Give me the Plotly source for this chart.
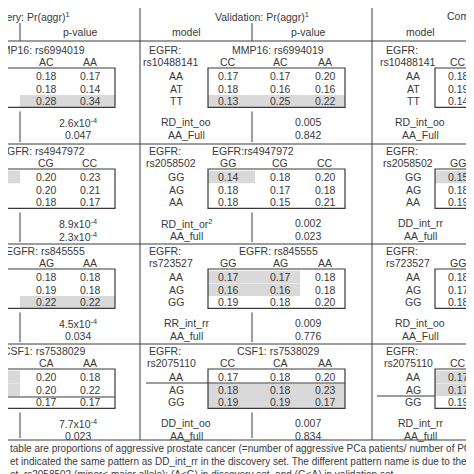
import plotly.graph_objects as go

# ---------------- data ----------------
disc_genes = ["MMP16: rs6994019", "EGFR: rs4947972", "EGFR: rs845555", "CSF1: rs7538029"]
disc_cols = [["AC", "AA"], ["CG", "CC"], ["AG", "AA"], ["CA", "AA"]]
disc_vals = [[["0.18", "0.17"], ["0.18", "0.14"], ["0.28", "0.34"]],
             [["0.20", "0.23"], ["0.20", "0.21"], ["0.18", "0.17"]],
             [["0.18", "0.18"], ["0.19", "0.18"], ["0.22", "0.22"]],
             [["0.20", "0.18"], ["0.20", "0.22"], ["0.17", "0.17"]]]
disc_p = [["2.6x10<sup>-4</sup>", "0.047"], ["8.9x10<sup>-4</sup>", "2.3x10<sup>-4</sup>"],
          ["4.5x10<sup>-4</sup>", "0.034"], ["7.7x10<sup>-4</sup>", "0.023"]]
disc_model = [["RD_int_oo", "AA_Full"], ["RD_int_or<sup>2</sup>", "AA_full"],
              ["RR_int_rr", "AA_full"], ["DD_int_oo", "AA_full"]]
row_snps = ["rs10488141", "rs2058502", "rs723527", "rs2075110"]
row_geno = [["AA", "AT", "TT"], ["GG", "AG", "AA"], ["AA", "AG", "GG"], ["AA", "AG", "GG"]]
val_genes = ["MMP16: rs6994019", "EGFR:rs4947972", "EGFR: rs845555", "CSF1: rs7538029"]
val_cols = [["CC", "AC", "AA"], ["GG", "CG", "CC"], ["GG", "AG", "AA"], ["CC", "CA", "AA"]]
val_vals = [[["0.17", "0.17", "0.20"], ["0.18", "0.16", "0.16"], ["0.13", "0.25", "0.22"]],
            [["0.14", "0.18", "0.20"], ["0.18", "0.17", "0.18"], ["0.18", "0.15", "0.21"]],
            [["0.17", "0.17", "0.18"], ["0.16", "0.16", "0.18"], ["0.19", "0.18", "0.20"]],
            [["0.17", "0.18", "0.20"], ["0.18", "0.18", "0.23"], ["0.19", "0.19", "0.17"]]]
val_p = [["0.005", "0.842"], ["0.002", "0.023"], ["0.009", "0.776"], ["0.007", "0.834"]]
val_model = [["RD_int_oo", "AA_Full"], ["DD_int_rr", "AA_full"],
             ["RD_int_oo", "AA_Full"], ["RD_int_rr", "AA_full"]]
comb_head = ["MMP16", "EGFR:rs", "EGFR", "CSF1"]
comb_vals = [["0.18", "0.19", "0.14"], ["0.15", "0.18", "0.19"],
             ["0.18", "0.17", "0.18"], ["0.17", "0.17", "0.19"]]
footnotes = ["table are proportions of aggressive prostate cancer (=number of aggressive PCa patients/ number of PCa pa",
             "et indicated the same pattern as DD_int_rr in the discovery set. The different pattern name is due to the revis",
             "et. rs2058502 (minor< major allele): (A<G) in discovery set, and (G<A) in validation set."]

# ---------------- layout geometry ----------------
row0 = [68, 169, 269, 369]
dy = 12.7
dividers = [33, 136, 236, 336, 432]
shade = "#d9d9d9"
ink = "#3a3a3a"
F = dict(family="Liberation Sans, Arial", size=10.5, color=ink)

shapes, ann = [], []
def T(x, y, s, anchor="center", size=10.5):
    ann.append(dict(x=x, y=y, text=s, showarrow=False, xanchor=anchor, yanchor="middle",
                    font=dict(F, size=size), xref="x", yref="y"))
def L(x0, y0, x1, y1, w=1):
    shapes.append(dict(type="line", x0=x0, y0=y0, x1=x1, y1=y1, line=dict(color=ink, width=w), layer="above"))
def R(x0, y0, x1, y1):
    shapes.append(dict(type="rect", x0=x0, y0=y0, x1=x1, y1=y1, fillcolor=shade, line=dict(width=0), layer="below"))

# main grid
L(132, -5, 132, 432); L(364, -5, 364, 432)
for d in dividers:
    L(-5, d, 480, d)
# header
T(64, 8, "Discovery: Pr(aggr)<sup>1</sup>", "right")
T(72, 24, "p-value"); L(12, 15, 12, 33)
T(178, 24, "model")
T(205, 8, "Validation: Pr(aggr)<sup>1</sup>", "left")
T(300, 24, "p-value"); L(244, 15, 244, 33)
T(412, 24, "model")
T(437, 8, "Combined", "left")

dcx = [38, 82]; dedges = [(12, 60), (60, 107)]
vcx = [220, 272, 317]; vedges = [(200, 247), (247, 292), (292, 337)]
disc_shade = [[(2, 0), (2, 1)], [(0, -1)], [(2, 0), (2, 1)], [(0, -1), (1, -1)]]
val_shade = [[(2, 0), (2, 1), (2, 2)], [(0, 0)], [(0, 0), (0, 1), (1, 0), (1, 1)],
             [(1, 0), (1, 1), (1, 2), (2, 0), (2, 1), (2, 2)]]
comb_shade = [[], [(0, 0)], [], [(0, 0), (1, 0)]]

for b in range(4):
    r0 = row0[b]
    ry = [r0, r0 + dy, r0 + 2 * dy]
    top, bot = r0 - 8, r0 + 2 * dy + 6
    # discovery
    T(79, r0 - 26, disc_genes[b], "right")
    for j in range(2):
        T(dcx[j], r0 - 14, disc_cols[b][j])
    for (i, j) in disc_shade[b]:
        x0, x1 = (-5, 12) if j < 0 else dedges[j]
        R(x0, ry[i] - 6.3, x1, ry[i] + 6.3)
    for i in range(3):
        for j in range(2):
            T(dcx[j], ry[i], disc_vals[b][i][j])
    shapes.append(dict(type="rect", x0=-5, y0=top, x1=107, y1=bot, line=dict(color=ink, width=1.2)))
    L(12, bot + 4, 12, dividers[b + 1] - 2)
    T(70, r0 + 46, disc_p[b][0]); T(70, r0 + 59, disc_p[b][1])
    # validation
    T(157, r0 - 26, "EGFR:"); T(163, r0 - 14, row_snps[b])
    for i in range(3):
        T(168, ry[i], row_geno[b][i])
    T(270 if b != 1 else 245, r0 - 26, val_genes[b])
    for j in range(3):
        T(vcx[j], r0 - 14, val_cols[b][j])
    for (i, j) in val_shade[b]:
        R(vedges[j][0], ry[i] - 6.3, vedges[j][1], ry[i] + 6.3)
    for i in range(3):
        for j in range(3):
            T(vcx[j], ry[i], val_vals[b][i][j])
    shapes.append(dict(type="rect", x0=200, y0=top, x1=337, y1=bot, line=dict(color=ink, width=1.2)))
    L(244, bot + 4, 244, dividers[b + 1] - 2)
    T(178, r0 + 46, disc_model[b][0]); T(178, r0 + 59, disc_model[b][1])
    T(300, r0 + 46, val_p[b][0]); T(300, r0 + 59, val_p[b][1])
    # combined
    T(394, r0 - 26, "EGFR:"); T(400, r0 - 14, row_snps[b])
    for i in range(3):
        T(405, ry[i], row_geno[b][i])
    T(460, r0 - 26, comb_head[b], "left")
    T(450, r0 - 14, val_cols[b][0])
    for (i, j) in comb_shade[b]:
        R(427, ry[i] - 6.3, 480, ry[i] + 6.3)
    for i in range(3):
        T(450, ry[i], comb_vals[b][i])
    shapes.append(dict(type="rect", x0=427, y0=top, x1=485, y1=bot, line=dict(color=ink, width=1.2)))
    T(412, r0 + 46, val_model[b][0]); T(412, r0 + 59, val_model[b][1])

# extra separators in last block
L(-5, 389, 107, 389)
L(138, 375, 200, 375)
L(200, 375, 337, 375)
L(369, 388, 427, 388)

for k, s in enumerate(footnotes):
    T(0, 440 + 13 * k, s, "left", 10)

fig = go.Figure()
fig.update_layout(width=474, height=474, margin=dict(l=0, r=0, t=0, b=0),
                  paper_bgcolor="white", plot_bgcolor="white",
                  xaxis=dict(range=[0, 474], visible=False, fixedrange=True),
                  yaxis=dict(range=[474, 0], visible=False, fixedrange=True),
                  shapes=shapes, annotations=ann, showlegend=False)
fig.write_html("out.html")
